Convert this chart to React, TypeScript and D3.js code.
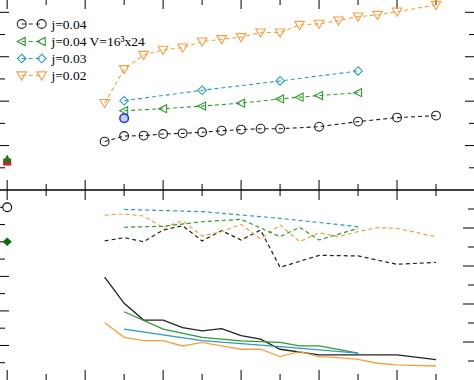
import React from 'react';
import * as d3 from 'd3';

const W = 474, H = 380;

// x positions
const xOrange = [2.5, 3, 3.5, 4, 4.5, 5, 5.5, 6, 6.5, 7, 7.5, 8, 8.5, 9, 9.5, 10, 11];
const xBlack = [2.5, 3, 3.5, 4, 4.5, 5, 5.5, 6, 6.5, 7, 8, 9, 10, 11];
const xGreen = [3, 4, 5, 6, 7, 7.5, 8, 9];
const xCyan = [3, 5, 7, 9];

// top panel values
const topBlack = [0.218, 0.243, 0.245, 0.252, 0.255, 0.26, 0.267, 0.272, 0.276, 0.276, 0.285, 0.308, 0.326, 0.335];
const topGreen = [0.357, 0.366, 0.378, 0.391, 0.41, 0.418, 0.425, 0.438];
const topCyan = [0.402, 0.449, 0.491, 0.536];
const topOrange = [0.391, 0.544, 0.608, 0.631, 0.641, 0.668, 0.679, 0.688, 0.709, 0.709, 0.743, 0.748, 0.763, 0.781, 0.788, 0.803, 0.833];
const topBlue = [{ x: 3, y: 0.323 }];
const topRefSquare = [{ x: 0, y: 0.126 }];
const topRefTriangle = [{ x: 0, y: 0.14 }];

// bottom panel, solid (left axis)
const solBlack = [5.95, 4.44, 3.47, 3.47, 3.03, 2.85, 2.97, 2.57, 2.37, 1.78, 1.45, 1.45, 1.45, 1.18];
const solGreen = [3.95, 2.95, 2.47, 2.26, 2.18, 1.97, 1.97, 1.55];
const solCyan = [2.95, 2.28, 1.93, 1.55];
const solOrange = [3.32, 2.47, 2.28, 2.28, 1.97, 2.18, 1.97, 1.78, 1.78, 1.35, 1.64, 1.35, 1.29, 1.2, 0.97, 0.87, 0.81];
// bottom panel, dashed (right axis)
const dashBlack = [7.32, 7.49, 7.28, 7.89, 8.12, 7.32, 7.86, 7.37, 7.89, 5.93, 6.56, 6.53, 6.09, 6.19];
const dashOrange = [8.68, 8.74, 8.63, 8.02, 8.38, 7.58, 7.81, 8.19, 7.42, 8.16, 7.28, 7.75, 7.54, 7.81, 8.02, 7.98, 7.54];
const dashCyan = [8.98, 8.86, 8.51, 8.07, 7.37];
const dashGreen = [8.04, 8.09, 8.33, 8.46, 7.54, 8.04, 7.37, 7.98];
const botRefCircle = [{ x: 0, y: 10 }];
const botRefDiamond = [{ x: 0, y: 8 }];

const xTicks = d3.range(0, 13);
const topYTicks = [0.1, 0.2, 0.3, 0.4, 0.5, 0.6, 0.7, 0.8];
const botLTicks = d3.range(1, 11);
const botRTicks = d3.range(1, 10);

const legendLabels = ['j=0.04', 'j=0.04 V=16³x24', 'j=0.03', 'j=0.02'];

const C_BLACK = '#222222';
const C_GREEN = '#2f9a2f';
const C_CYAN = '#2b9cc0';
const C_ORANGE = '#f7a040';

type Mk = 'circle' | 'tleft' | 'diamond' | 'tdown';

function Marker({ kind, cx, cy, color }: { kind: Mk; cx: number; cy: number; color: string }) {
  const sw = 1.1;
  if (kind === 'circle') return <circle cx={cx} cy={cy} r={4.4} fill="none" stroke={color} strokeWidth={sw} />;
  let pts: number[][] = [];
  if (kind === 'tleft') pts = [[-4.5, 0], [3.5, -4], [3.5, 4]];
  if (kind === 'diamond') pts = [[0, -4.3], [4.3, 0], [0, 4.3], [-4.3, 0]];
  if (kind === 'tdown') pts = [[-4.8, -3.6], [4.8, -3.6], [0, 4.6]];
  return <polygon points={pts.map(p => `${cx + p[0]},${cy + p[1]}`).join(' ')} fill="none" stroke={color} strokeWidth={sw} />;
}

export default function App() {
  const x = d3.scaleLinear().domain([-0.21, 12.0]).range([-1, 475]);
  const yTop = d3.scaleLinear().domain([0, 0.86]).range([190, -1]);
  const yL = d3.scaleLinear().domain([0, 11]).range([380, 190]);
  const yR = d3.scaleLinear().domain([0, 10]).range([380, 190]);

  const lineT = (xs: number[], ys: number[]) =>
    d3.line<number>().x((_, i) => x(xs[i])).y(d => yTop(d))(ys) || '';
  const lineL = (xs: number[], ys: number[]) =>
    d3.line<number>().x((_, i) => x(xs[i])).y(d => yL(d))(ys) || '';
  const lineR = (xs: number[], ys: number[]) =>
    d3.line<number>().x((_, i) => x(xs[i])).y(d => yR(d))(ys) || '';

  const topSeries: { xs: number[]; ys: number[]; color: string; kind: Mk }[] = [
    { xs: xBlack, ys: topBlack, color: C_BLACK, kind: 'circle' },
    { xs: xGreen, ys: topGreen, color: C_GREEN, kind: 'tleft' },
    { xs: xCyan, ys: topCyan, color: C_CYAN, kind: 'diamond' },
    { xs: xOrange, ys: topOrange, color: C_ORANGE, kind: 'tdown' },
  ];

  const tk = 'black';
  const maj = 10, mnr = 6;
  const ticks: JSX.Element[] = [];
  xTicks.forEach(t => {
    const px = x(t);
    const L = t % 2 === 0 ? maj : mnr;
    ticks.push(<line key={`xt1${t}`} x1={px} x2={px} y1={-1} y2={-1 + L} stroke={tk} strokeWidth={1} />);
    ticks.push(<line key={`xt2${t}`} x1={px} x2={px} y1={190 - L} y2={190 + L} stroke={tk} strokeWidth={1} />);
    ticks.push(<line key={`xt3${t}`} x1={px} x2={px} y1={380 - L} y2={380} stroke={tk} strokeWidth={1} />);
  });
  topYTicks.forEach((t, i) => {
    const py = yTop(t);
    const L = i % 2 === 1 ? maj : mnr;
    ticks.push(<line key={`ty1${i}`} x1={-1} x2={-1 + L} y1={py} y2={py} stroke={tk} strokeWidth={1} />);
    ticks.push(<line key={`ty2${i}`} x1={475 - L} x2={475} y1={py} y2={py} stroke={tk} strokeWidth={1} />);
  });
  botLTicks.forEach(t => {
    const py = yL(t);
    const L = t % 2 === 0 ? maj : mnr;
    ticks.push(<line key={`bl${t}`} x1={-1} x2={-1 + L} y1={py} y2={py} stroke={tk} strokeWidth={1} />);
  });
  botRTicks.forEach(t => {
    const py = yR(t);
    const L = t % 2 === 0 ? maj + 2 : mnr + 1;
    ticks.push(<line key={`br${t}`} x1={475 - L} x2={475} y1={py} y2={py} stroke={tk} strokeWidth={1} />);
  });

  const legendY = [24, 41.5, 58.5, 75.5];

  return (
    <div style={{ position: 'fixed', left: 0, top: 0, width: W, height: H, background: 'white' }}>
      <svg width={W} height={H} viewBox={`0 0 ${W} ${H}`} style={{ display: 'block' }}>
        <rect x={0} y={0} width={W} height={H} fill="white" />
        {ticks}
        <line x1={0} x2={W} y1={190} y2={190} stroke="black" strokeWidth={1.6} />

        {/* top panel */}
        {topSeries.map((s, i) => (
          <g key={`ts${i}`}>
            <path d={lineT(s.xs, s.ys)} fill="none" stroke={s.color} strokeWidth={1.1} strokeDasharray="4,3" />
            {s.ys.map((v, j) => <Marker key={j} kind={s.kind} cx={x(s.xs[j])} cy={yTop(v)} color={s.color} />)}
          </g>
        ))}
        {topBlue.map((p, i) => (
          <circle key={`bl${i}`} cx={x(p.x)} cy={yTop(p.y)} r={4.3} fill="#c6cbff" stroke="#1f2fe8" strokeWidth={1.5} />
        ))}
        {topRefSquare.map((p, i) => (
          <rect key={`rs${i}`} x={x(p.x) - 4} y={yTop(p.y) - 3.5} width={8} height={7} fill="#e8161b" />
        ))}
        {topRefTriangle.map((p, i) => (
          <polygon key={`rt${i}`} points={`${x(p.x) - 4.3},${yTop(p.y) + 3.5} ${x(p.x) + 4.3},${yTop(p.y) + 3.5} ${x(p.x)},${yTop(p.y) - 4.5}`} fill="#13801a" />
        ))}

        {/* legend */}
        {topSeries.map((s, i) => (
          <g key={`lg${i}`}>
            <line x1={21.7} x2={41.7} y1={legendY[i]} y2={legendY[i]} stroke={s.color} strokeWidth={1.1} strokeDasharray="4,3" />
            <Marker kind={s.kind} cx={21.7} cy={legendY[i]} color={s.color} />
            <Marker kind={s.kind} cx={41.7} cy={legendY[i]} color={s.color} />
            <text x={51.5} y={legendY[i] + 4.6} fontFamily="'Liberation Serif', 'DejaVu Serif', serif" fontSize={13.5} fill="black">{legendLabels[i]}</text>
          </g>
        ))}

        {/* bottom panel dashed */}
        <path d={lineR(xBlack, dashBlack)} fill="none" stroke={C_BLACK} strokeWidth={1.2} strokeDasharray="4,3" />
        <path d={lineR(xOrange, dashOrange)} fill="none" stroke={C_ORANGE} strokeWidth={1.2} strokeDasharray="4,3" />
        <path d={lineR(xCyan, dashCyan)} fill="none" stroke={C_CYAN} strokeWidth={1.2} strokeDasharray="4,3" />
        <path d={lineR(xGreen, dashGreen)} fill="none" stroke={C_GREEN} strokeWidth={1.2} strokeDasharray="4,3" />
        {/* bottom panel solid */}
        <path d={lineL(xBlack, solBlack)} fill="none" stroke={C_BLACK} strokeWidth={1.3} />
        <path d={lineL(xGreen, solGreen)} fill="none" stroke={C_GREEN} strokeWidth={1.3} />
        <path d={lineL(xCyan, solCyan)} fill="none" stroke={C_CYAN} strokeWidth={1.3} />
        <path d={lineL(xOrange, solOrange)} fill="none" stroke={C_ORANGE} strokeWidth={1.3} />

        {botRefCircle.map((p, i) => (
          <circle key={`rc${i}`} cx={x(p.x)} cy={yL(p.y)} r={4.4} fill="white" stroke="black" strokeWidth={1.1} />
        ))}
        {botRefDiamond.map((p, i) => (
          <polygon key={`rd${i}`} points={`${x(p.x)},${yL(p.y) - 4.2} ${x(p.x) + 4.6},${yL(p.y)} ${x(p.x)},${yL(p.y) + 4.2} ${x(p.x) - 4.6},${yL(p.y)}`} fill="#0b6b12" />
        ))}
      </svg>
    </div>
  );
}
